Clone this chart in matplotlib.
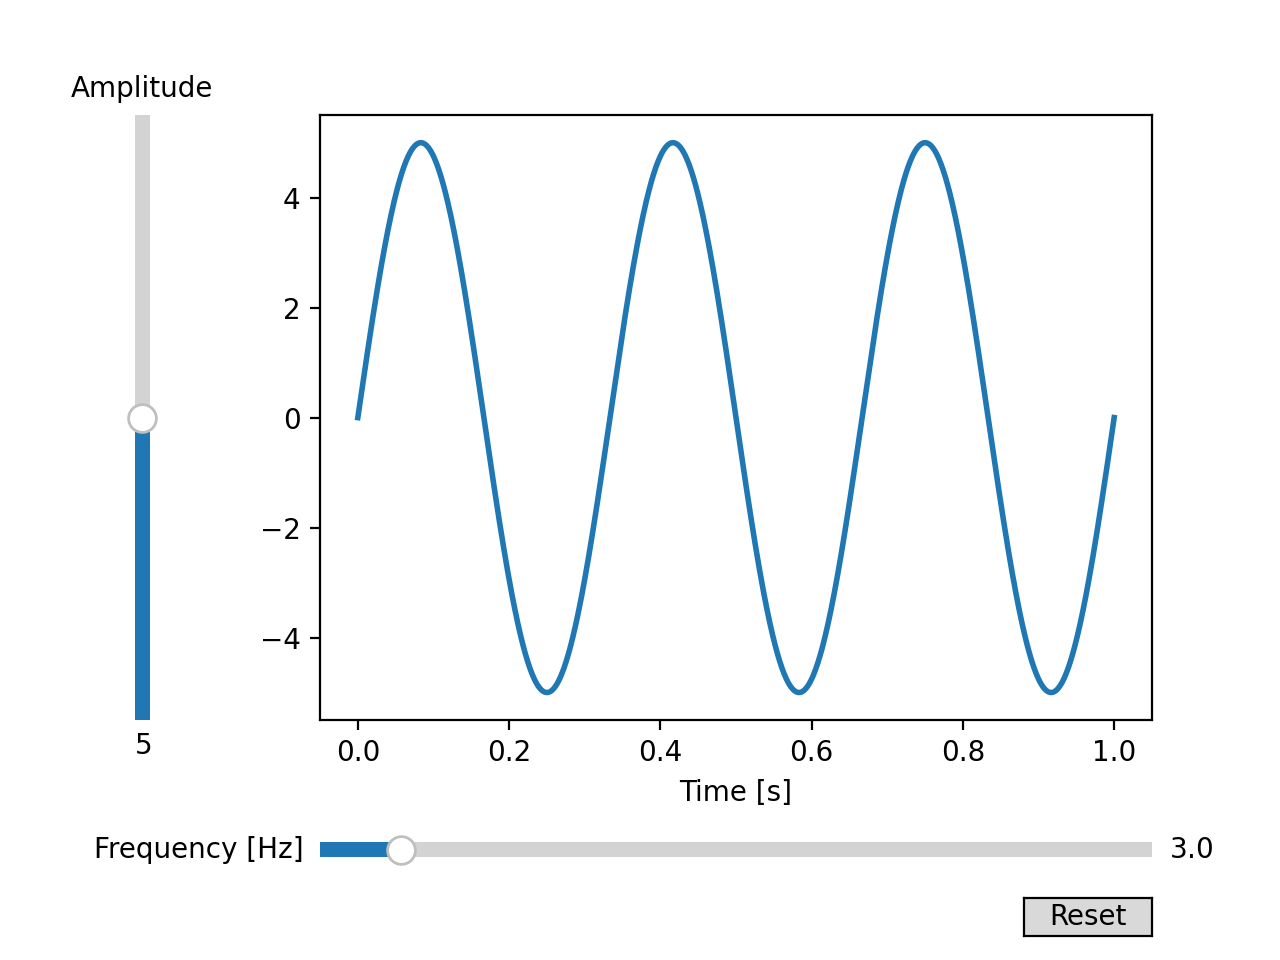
import matplotlib
matplotlib.use("Agg")
import matplotlib.pyplot as plt
import numpy as np
from matplotlib.widgets import Button, Slider

# values
init_amplitude = 5
init_frequency = 3.0
amp_range = [0, 10]
freq_range = [0.1, 30]
t = np.linspace(0, 1, 1000)


def f(t, amplitude, frequency):
    return amplitude * np.sin(2 * np.pi * frequency * t)


fig, ax = plt.subplots(figsize=(6.4, 4.8), dpi=200)
line, = ax.plot(t, f(t, init_amplitude, init_frequency), lw=2)
ax.set_xlabel('Time [s]')

fig.subplots_adjust(left=0.25, bottom=0.25)

axfreq = fig.add_axes([0.25, 0.1, 0.65, 0.03])
freq_slider = Slider(ax=axfreq, label='Frequency [Hz]',
                     valmin=freq_range[0], valmax=freq_range[1],
                     valinit=init_frequency)

axamp = fig.add_axes([0.1, 0.25, 0.0225, 0.63])
amp_slider = Slider(ax=axamp, label='Amplitude',
                    valmin=amp_range[0], valmax=amp_range[1],
                    valinit=init_amplitude, orientation='vertical')

resetax = fig.add_axes([0.8, 0.025, 0.1, 0.04])
button = Button(resetax, 'Reset', hovercolor='0.975')

fig.savefig('out.png', dpi=200)
